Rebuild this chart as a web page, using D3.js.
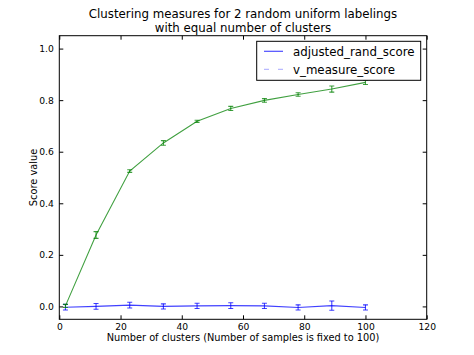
<!DOCTYPE html>
<html><head><meta charset="utf-8">
<script src="https://cdn.jsdelivr.net/npm/d3@7"></script>
<style>body{margin:0;background:#fff}svg{display:block}text{font-family:"DejaVu Sans",sans-serif;fill:#000}</style>
</head><body><svg id="c" width="474" height="355"></svg>
<script>
const nClusters = [2, 12, 23, 34, 45, 56, 67, 78, 89, 100];
const adjustedRand = [-0.003, 0.0, 0.005, 0.0, 0.002, 0.003, 0.002, -0.004, 0.003, -0.004];
const adjustedRandErr = [0.011, 0.011, 0.011, 0.010, 0.010, 0.011, 0.010, 0.010, 0.018, 0.010];
const vMeasure = [0.002, 0.277, 0.525, 0.634, 0.718, 0.768, 0.799, 0.822, 0.843, 0.869];
const vMeasureErr = [0.006, 0.013, 0.005, 0.009, 0.004, 0.008, 0.007, 0.007, 0.012, 0.008];
const xTicks = [0, 20, 40, 60, 80, 100, 120];
const yTicks = [0.0, 0.2, 0.4, 0.6, 0.8, 1.0];
const seriesNames = ["adjusted_rand_score", "v_measure_score"];
const titleLines = ["Clustering measures for 2 random uniform labelings", "with equal number of clusters"];

const svg = d3.select("#c");
const L = 59.3, R = 426.7, T = 35.7, B = 319.3;
const x = d3.scaleLinear().domain([0, 120]).range([L, R]);
const y = d3.scaleLinear().domain([-0.05, 1.05]).range([B, T]);
const tickFs = 9.2, labelFs = 9.8, titleFs = 11.8, legendFs = 11.8;

svg.append("clipPath").attr("id", "clip").append("rect").attr("x", L).attr("y", T).attr("width", R - L).attr("height", B - T);

const series = [
  {v: adjustedRand, e: adjustedRandErr, c: "#0000ff"},
  {v: vMeasure, e: vMeasureErr, c: "#008000"}
];
const plot = svg.append("g").attr("clip-path", "url(#clip)");
series.forEach(s => {
  const line = d3.line().x((d, i) => x(nClusters[i])).y(d => y(d));
  plot.append("path").datum(s.v).attr("d", line).attr("fill", "none").attr("stroke", s.c).attr("stroke-width", 1.1).attr("stroke-opacity", 0.75);
  const g = plot.append("g").attr("stroke", s.c).attr("stroke-width", 1.1).attr("stroke-opacity", 0.75);
  s.v.forEach((d, i) => {
    const cx = x(nClusters[i]);
    g.append("line").attr("x1", cx).attr("x2", cx).attr("y1", y(d - s.e[i])).attr("y2", y(d + s.e[i]));
    [d - s.e[i], d + s.e[i]].forEach(v => g.append("line").attr("x1", cx - 2.5).attr("x2", cx + 2.5).attr("y1", y(v)).attr("y2", y(v)));
  });
});

const tl = 4;
const ax = svg.append("g");
const axB = d3.axisBottom(x).tickValues(xTicks).tickSizeInner(-tl).tickSizeOuter(0).tickPadding(4).tickFormat(d3.format("d"));
ax.append("g").attr("transform", `translate(0,${B})`).call(axB);
const axT = d3.axisTop(x).tickValues(xTicks).tickSizeInner(-tl).tickSizeOuter(0).tickFormat("");
ax.append("g").attr("transform", `translate(0,${T})`).call(axT);
const axL = d3.axisLeft(y).tickValues(yTicks).tickSizeInner(-tl).tickSizeOuter(0).tickPadding(5.5).tickFormat(d3.format(".1f"));
ax.append("g").attr("transform", `translate(${L},0)`).call(axL);
const axR = d3.axisRight(y).tickValues(yTicks).tickSizeInner(-tl).tickSizeOuter(0).tickFormat("");
ax.append("g").attr("transform", `translate(${R},0)`).call(axR);
ax.selectAll(".domain").remove();
ax.selectAll("text").attr("font-size", tickFs).attr("font-family", "DejaVu Sans").attr("fill", "#000");
ax.selectAll(".tick line").attr("stroke", "#000");
svg.append("rect").attr("x", L).attr("y", T).attr("width", R - L).attr("height", B - T).attr("fill", "none").attr("stroke", "#000").attr("stroke-width", 1);

svg.append("text").attr("text-anchor", "middle").attr("font-size", titleFs)
  .selectAll("tspan").data(titleLines).join("tspan").attr("x", (L + R) / 2).attr("y", (d, i) => 18.3 + i * 13.3).text(d => d);

svg.append("text").attr("x", (L + R) / 2).attr("y", 341.2).attr("text-anchor", "middle").attr("font-size", labelFs).text("Number of clusters (Number of samples is fixed to 100)");
svg.append("text").attr("transform", `translate(36.5,${(T + B) / 2}) rotate(-90)`).attr("text-anchor", "middle").attr("font-size", labelFs).text("Score value");

const lg = svg.append("g");
lg.append("rect").attr("x", 256.7).attr("y", 41.3).attr("width", 164).attr("height", 39).attr("fill", "#fff").attr("stroke", "#000").attr("stroke-width", 1);
const legStyles = [{c: "#0000ff", dash: null, op: 0.7}, {c: "#8080ff", dash: "5,9", op: 0.55}];
seriesNames.forEach((n, i) => {
  const yy = 51.3 + i * 18;
  lg.append("line").attr("x1", 264).attr("x2", 283).attr("y1", yy).attr("y2", yy).attr("stroke", legStyles[i].c)
    .attr("stroke-opacity", legStyles[i].op).attr("stroke-dasharray", legStyles[i].dash).attr("stroke-width", 1.2);
  lg.append("text").attr("x", 293).attr("y", yy + 4.3).attr("font-size", legendFs).text(n);
});
</script></body></html>
